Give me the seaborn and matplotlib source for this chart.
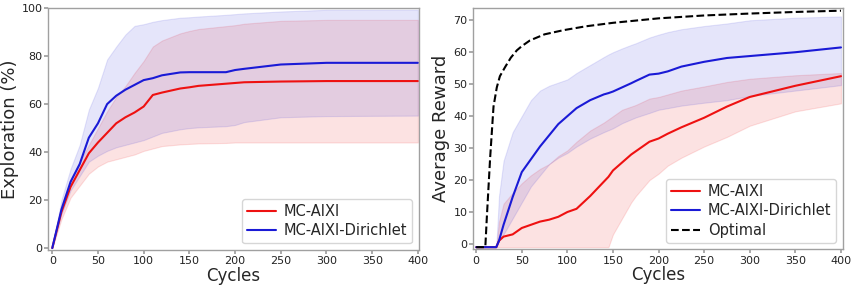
import numpy as np
import pandas as pd
import seaborn as sns
import matplotlib
matplotlib.use("Agg")
import matplotlib.pyplot as plt

# ---------------- Left panel: Exploration (%) ----------------
expl_x = [0, 10, 20, 30, 40, 50, 60, 70, 80, 90, 100, 110, 120, 140, 150, 160, 190, 200, 210, 250, 300, 400]
expl_red = [0, 15, 25.5, 32.5, 39.5, 44, 48, 52, 54.5, 56.5, 59, 63.8, 64.8, 66.5, 67, 67.6, 68.5, 68.8, 69.1, 69.4, 69.6, 69.6]
expl_red_lo = [0, 12, 21, 26, 31, 34, 36, 37, 38, 39, 40.5, 41.5, 42.5, 43.2, 43.4, 43.6, 43.8, 44, 44, 44, 44, 44]
expl_red_hi = [0, 18, 28, 36, 43, 50, 57, 63, 67.5, 73, 78, 84, 86.5, 89.5, 90.5, 91.3, 92.5, 92.9, 93.5, 94.7, 95.1, 95.1]
expl_blue = [0, 16, 27.6, 35, 46, 52, 60, 63.5, 66, 68, 70, 70.8, 72, 73.2, 73.3, 73.3, 73.3, 74.2, 74.7, 76.5, 77.2, 77.2]
expl_blue_lo = [0, 14, 24, 30, 36, 38.5, 40.5, 42, 43, 44, 45, 46.5, 48, 49.5, 50, 50.3, 50.8, 51.3, 52.5, 54.5, 55, 55.2]
expl_blue_hi = [0, 20, 33, 43, 57.7, 66.8, 78.6, 84, 89, 92.6, 93.3, 94.3, 95, 96, 96.2, 96.5, 97.2, 97.5, 97.8, 98.6, 99.3, 99.3]

# ---------------- Right panel: Average Reward ----------------
rew_x = [0, 10, 22, 25, 30, 40, 50, 60, 70, 80, 90, 100, 110, 125, 140, 145, 150, 160, 170, 175, 190, 200, 210,
         225, 250, 275, 300, 350, 400]
rew_red = [-1, -1, -1, 1, 2.3, 3, 5, 6, 7, 7.6, 8.5, 10, 11, 15, 19.5, 21, 23, 25.5, 28, 29, 32, 33, 34.5,
           36.5, 39.5, 43, 46, 49.5, 52.5]
rew_red_lo = [-1, -1, -1, -1, -1, -1, -1, -1, -1, -1, -1, -1, -1, -1, -1, -1, 3, 8, 13, 15, 20, 22, 24.5,
              27, 30.5, 33.5, 37, 41.5, 44]
rew_red_hi = [-1, -1, -1, 7, 12.6, 16, 19, 21.5, 23.5, 25, 27.5, 29.3, 32, 35.5, 38, 39, 40, 42, 43, 43.5, 45.5, 46, 46.8,
              48, 49.3, 50.7, 51.7, 52.8, 53.5]
rew_blue = [-1, -1, -1, 1, 6, 14.7, 22.5, 26.5, 30.5, 34, 37.5, 40, 42.5, 45, 46.8, 47.2, 47.7, 49, 50.3, 51, 53, 53.3, 54,
            55.5, 57, 58.2, 58.8, 60, 61.5]
rew_blue_lo = [-1, -1, -1, 1, 3, 8, 13, 18, 21.5, 25, 27, 28.5, 30.5, 33, 35, 35.6, 36.2, 37.8, 39, 39.6, 41, 42, 42.5,
               43.3, 44.2, 45, 46.3, 48, 49.7]
rew_blue_hi = [-1, -1, -1, 15, 26, 35, 40, 45, 48, 49.5, 50.5, 51.5, 53.5, 56, 58.5, 59.3, 60, 61.2, 62.3, 62.8, 64.6, 65.5, 66.3,
               67.2, 68.2, 69, 70, 70.8, 71.2]
opt_x = [0, 10, 11.7, 15.3, 19, 22.6, 26, 31.8, 38, 44.6, 50, 59, 75, 95.7, 120, 150, 200, 250, 300, 350, 400]
opt_y = [-1, -1, 8.5, 27, 43, 49, 52.5, 55.4, 58.3, 60.6, 61.9, 63.7, 65.6, 66.9, 68.1, 69.2, 70.6, 71.5, 72.1, 72.6, 73.0]

RED = "#ee1111"
BLUE = "#1a1ad6"

sns.set_theme(style="white")
plt.rcParams["font.family"] = ["DejaVu Sans"]
plt.rcParams.update({
    "axes.edgecolor": "#a0a0a0",
    "axes.linewidth": 1.0,
    "xtick.bottom": True,
    "ytick.left": True,
    "xtick.color": "#a0a0a0",
    "ytick.color": "#a0a0a0",
    "xtick.labelcolor": "#222222",
    "ytick.labelcolor": "#222222",
    "xtick.major.size": 3,
    "ytick.major.size": 3,
    "xtick.major.pad": 1.5,
    "ytick.major.pad": 1.0,
})

fig = plt.figure(figsize=(8.6, 2.9), dpi=100)
ax1 = fig.add_axes([0.056, 0.138, 0.431, 0.834])
ax2 = fig.add_axes([0.550, 0.140, 0.430, 0.832])

leg_kw = dict(loc="lower right", fontsize=10.5, frameon=True, edgecolor="#cccccc",
              borderpad=0.35, labelspacing=0.3, handlelength=2.0, handletextpad=0.5,
              borderaxespad=0.45, fancybox=True)

# Left
ax1.fill_between(expl_x, expl_red_lo, expl_red_hi, color=RED, alpha=0.12, lw=0.8)
ax1.fill_between(expl_x, expl_blue_lo, expl_blue_hi, color=BLUE, alpha=0.11, lw=0.8)
sns.lineplot(x=expl_x, y=expl_red, ax=ax1, color=RED, lw=1.5, label="MC-AIXI")
sns.lineplot(x=expl_x, y=expl_blue, ax=ax1, color=BLUE, lw=1.5, label="MC-AIXI-Dirichlet")
ax1.set_xlim(-4.5, 401)
ax1.set_ylim(-0.8, 100)
ax1.set_xticks([0, 50, 100, 150, 200, 250, 300, 350, 400])
ax1.set_yticks([0, 20, 40, 60, 80, 100])
ax1.set_xlabel("Cycles", fontsize=12)
ax1.set_ylabel("Exploration (%)", fontsize=13)
ax1.xaxis.set_label_coords(0.5, -0.07)
ax1.yaxis.set_label_coords(-0.078, 0.5)
ax1.tick_params(labelsize=8)
ax1.legend(**leg_kw)

# Right
ax2.fill_between(rew_x, rew_red_lo, rew_red_hi, color=RED, alpha=0.12, lw=0.8)
ax2.fill_between(rew_x, rew_blue_lo, rew_blue_hi, color=BLUE, alpha=0.11, lw=0.8)
sns.lineplot(x=rew_x, y=rew_red, ax=ax2, color=RED, lw=1.5, label="MC-AIXI")
sns.lineplot(x=rew_x, y=rew_blue, ax=ax2, color=BLUE, lw=1.5, label="MC-AIXI-Dirichlet")
sns.lineplot(x=opt_x, y=opt_y, ax=ax2, color="black", lw=1.5, linestyle="--", label="Optimal")
ax2.set_xlim(-3.5, 402)
ax2.set_ylim(-1.7, 73.8)
ax2.set_xticks([0, 50, 100, 150, 200, 250, 300, 350, 400])
ax2.set_yticks([0, 10, 20, 30, 40, 50, 60, 70])
ax2.set_xlabel("Cycles", fontsize=12)
ax2.set_ylabel("Average Reward", fontsize=13)
ax2.xaxis.set_label_coords(0.5, -0.07)
ax2.yaxis.set_label_coords(-0.062, 0.5)
ax2.tick_params(labelsize=8)
ax2.legend(**leg_kw)

fig.savefig("out.png", dpi=100)
